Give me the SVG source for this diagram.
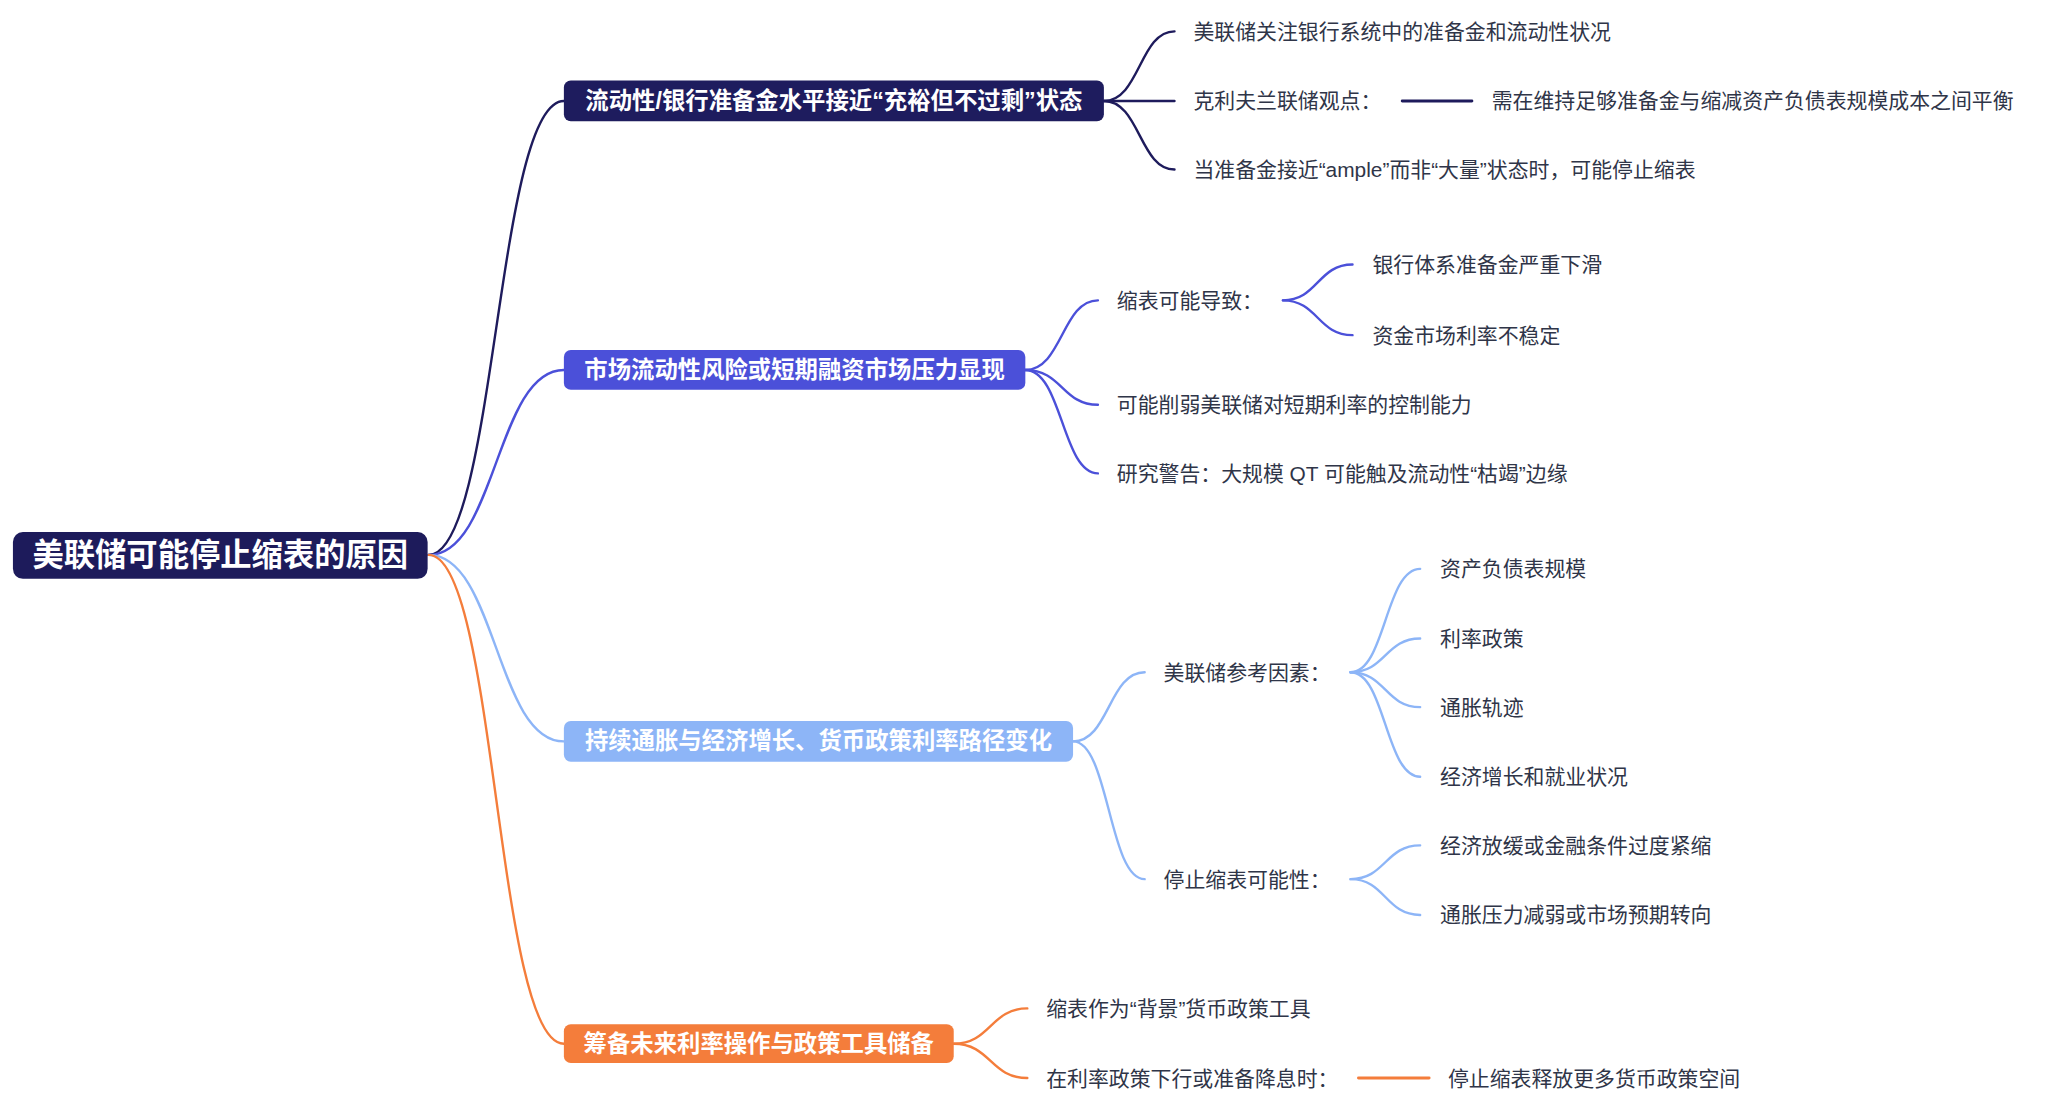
<svg xmlns="http://www.w3.org/2000/svg" width="2047" height="1111" viewBox="0 0 2047 1111">
<style>
text{font-family:"Liberation Sans","Noto Sans CJK SC",sans-serif;dominant-baseline:central}
.bt{fill:#fff;font-weight:bold;text-anchor:middle}
.root{font-size:31.5px}
.l1{font-size:23.5px}
.lf{font-size:21px;fill:#2f3548}
.c{fill:none;stroke-width:2.4;stroke-linecap:round}
.navy{stroke:#1e1b5c}.indigo{stroke:#4b50d9}.sky{stroke:#8db5f7}.orange{stroke:#f47d3b}
.hl{stroke-width:3}
</style>
<rect width="2047" height="1111" fill="#fff"/>
<g transform="scale(0.9945)">
<g id="connectors">
<path class="c navy" d="M431,558 C499,558 499,101.5 567,101.5"/>
<path class="c indigo" d="M431,558 C499,558 499,372 567,372"/>
<path class="c sky" d="M431,558 C499,558 499,745.5 567,745.5"/>
<path class="c orange" d="M431,558 C499,558 499,1049.5 567,1049.5"/>
<path class="c navy" d="M1110,101.5 C1146,101.5 1146,31.5 1181,31.5"/>
<path class="c navy" d="M1110,101.5 L1181,101.5"/>
<path class="c navy" d="M1110,101.5 C1146,101.5 1146,170.5 1181,170.5"/>
<path class="c navy hl" d="M1410,101.5 L1480,101.5"/>
<path class="c indigo" d="M1031,372 C1068,372 1068,302 1104,302"/>
<path class="c indigo" d="M1031,372 C1068,372 1068,407 1104,407"/>
<path class="c indigo" d="M1031,372 C1068,372 1068,476 1104,476"/>
<path class="c indigo" d="M1290,302 C1325,302 1325,266 1360,266"/>
<path class="c indigo" d="M1290,302 C1325,302 1325,337 1360,337"/>
<path class="c sky" d="M1079,745.5 C1115,745.5 1115,676 1151,676"/>
<path class="c sky" d="M1079,745.5 C1115,745.5 1115,884 1151,884"/>
<path class="c sky" d="M1358,676 C1393,676 1393,572 1428,572"/>
<path class="c sky" d="M1358,676 C1393,676 1393,642 1428,642"/>
<path class="c sky" d="M1358,676 C1393,676 1393,711 1428,711"/>
<path class="c sky" d="M1358,676 C1393,676 1393,781 1428,781"/>
<path class="c sky" d="M1358,884 C1393,884 1393,850 1428,850"/>
<path class="c sky" d="M1358,884 C1393,884 1393,920 1428,920"/>
<path class="c orange" d="M959,1049.5 C996,1049.5 996,1014 1033,1014"/>
<path class="c orange" d="M959,1049.5 C996,1049.5 996,1084 1033,1084"/>
<path class="c orange hl" d="M1366,1084 L1437,1084"/>
</g>
<g id="root">
<rect x="13" y="535" width="417" height="47" rx="10" fill="#1d1b5b"/>
<text class="bt root" x="221.5" y="558.5">美联储可能停止缩表的原因</text>
</g>
<g id="b1">
<rect x="567" y="81" width="543" height="41" rx="7" fill="#1e1c5e"/>
<text class="bt l1" x="838.5" y="101.5">流动性/银行准备金水平接近“充裕但不过剩”状态</text>
</g>
<g id="b1-1"><text class="lf" x="1200" y="31.5">美联储关注银行系统中的准备金和流动性状况</text></g>
<g id="b1-2"><text class="lf" x="1200" y="101.5">克利夫兰联储观点：</text></g>
<g id="b1-2-1"><text class="lf" x="1500" y="101.5">需在维持足够准备金与缩减资产负债表规模成本之间平衡</text></g>
<g id="b1-3"><text class="lf" x="1200" y="170.5">当准备金接近“ample”而非“大量”状态时，可能停止缩表</text></g>
<g id="b2">
<rect x="567" y="352" width="464" height="40" rx="7" fill="#4b50d9"/>
<text class="bt l1" x="799" y="372">市场流动性风险或短期融资市场压力显现</text>
</g>
<g id="b2-1"><text class="lf" x="1123" y="302">缩表可能导致：</text></g>
<g id="b2-1-1"><text class="lf" x="1380" y="266">银行体系准备金严重下滑</text></g>
<g id="b2-1-2"><text class="lf" x="1380" y="337">资金市场利率不稳定</text></g>
<g id="b2-2"><text class="lf" x="1123" y="407">可能削弱美联储对短期利率的控制能力</text></g>
<g id="b2-3"><text class="lf" x="1123" y="476">研究警告：大规模 QT 可能触及流动性“枯竭”边缘</text></g>
<g id="b3">
<rect x="567" y="725" width="512" height="41" rx="7" fill="#8db5f7"/>
<text class="bt l1" x="823" y="745.5">持续通胀与经济增长、货币政策利率路径变化</text>
</g>
<g id="b3-1"><text class="lf" x="1170" y="676">美联储参考因素：</text></g>
<g id="b3-1-1"><text class="lf" x="1448" y="572">资产负债表规模</text></g>
<g id="b3-1-2"><text class="lf" x="1448" y="642">利率政策</text></g>
<g id="b3-1-3"><text class="lf" x="1448" y="711">通胀轨迹</text></g>
<g id="b3-1-4"><text class="lf" x="1448" y="781">经济增长和就业状况</text></g>
<g id="b3-2"><text class="lf" x="1170" y="884">停止缩表可能性：</text></g>
<g id="b3-2-1"><text class="lf" x="1448" y="850">经济放缓或金融条件过度紧缩</text></g>
<g id="b3-2-2"><text class="lf" x="1448" y="920">通胀压力减弱或市场预期转向</text></g>
<g id="b4">
<rect x="567" y="1030" width="392" height="39" rx="7" fill="#f47d3b"/>
<text class="bt l1" x="763" y="1049.5">筹备未来利率操作与政策工具储备</text>
</g>
<g id="b4-1"><text class="lf" x="1052" y="1014">缩表作为“背景”货币政策工具</text></g>
<g id="b4-2"><text class="lf" x="1052" y="1084">在利率政策下行或准备降息时：</text></g>
<g id="b4-2-1"><text class="lf" x="1456" y="1084">停止缩表释放更多货币政策空间</text></g>
</g>
</svg>
